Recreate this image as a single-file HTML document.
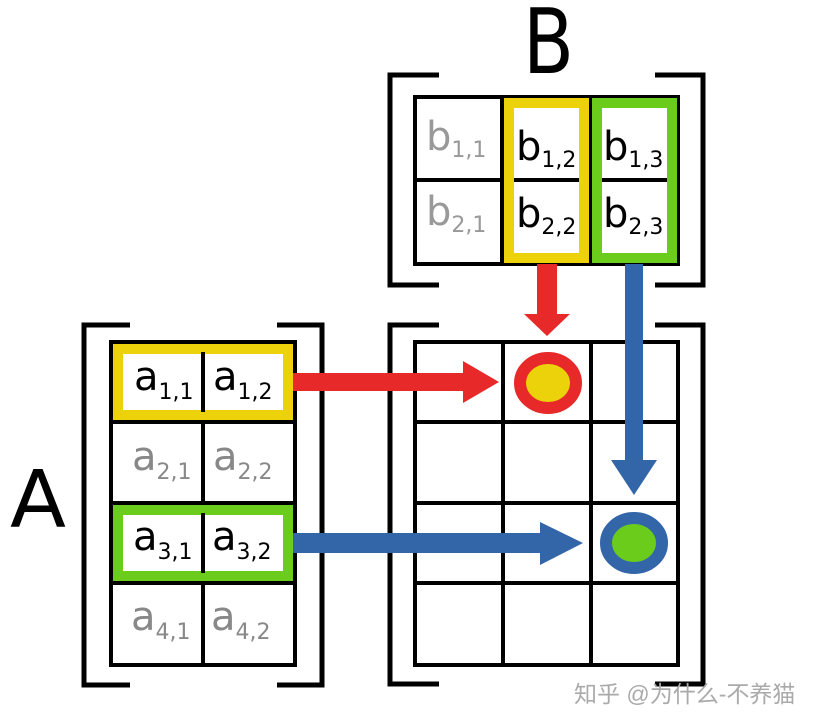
<!DOCTYPE html>
<html><head><meta charset="utf-8"><style>
html,body{margin:0;padding:0;background:#fff;}
svg{display:block;}
text{font-family:"DejaVu Sans","Liberation Sans",sans-serif;}
</style></head><body>
<svg width="828" height="727" viewBox="0 0 828 727" xmlns="http://www.w3.org/2000/svg">
<rect width="828" height="727" fill="#fff"/>
<text x="523" y="73" font-size="90" textLength="51" lengthAdjust="spacingAndGlyphs" fill="#000">B</text>
<text x="10" y="527" font-size="79" textLength="56" lengthAdjust="spacingAndGlyphs" fill="#000">A</text>

<path d="M439,75 H390 V285 H439" fill="none" stroke="#000" stroke-width="5"/>
<path d="M655,75 H703 V285 H655" fill="none" stroke="#000" stroke-width="5"/>
<rect x="415" y="97" width="263" height="167" fill="#fff" stroke="#000" stroke-width="4"/>
<line x1="415" y1="180" x2="678" y2="180" stroke="#000" stroke-width="4"/>
<line x1="502" y1="97" x2="502" y2="264" stroke="#000" stroke-width="4"/>
<line x1="590" y1="97" x2="590" y2="264" stroke="#000" stroke-width="4"/>
<rect x="509" y="103" width="75" height="155" fill="none" stroke="#ecd20a" stroke-width="10"/>
<rect x="597" y="103" width="75" height="155" fill="none" stroke="#6ccc1c" stroke-width="10"/>

<g font-size="40">
<text x="426" y="150" fill="#999">b<tspan font-size="22" dy="7">1,1</tspan></text>
<text x="426" y="225" fill="#999">b<tspan font-size="22" dy="7">2,1</tspan></text>
<text x="516" y="160" fill="#000">b<tspan font-size="22" dy="7">1,2</tspan></text>
<text x="516" y="227" fill="#000">b<tspan font-size="22" dy="7">2,2</tspan></text>
<text x="603" y="160" fill="#000">b<tspan font-size="22" dy="7">1,3</tspan></text>
<text x="603" y="227" fill="#000">b<tspan font-size="22" dy="7">2,3</tspan></text>
</g>

<path d="M439,325 H390 V684 H439" fill="none" stroke="#000" stroke-width="5"/>
<path d="M655,325 H703 V684 H655" fill="none" stroke="#000" stroke-width="5"/>
<rect x="415" y="342" width="263" height="323" fill="#fff" stroke="#000" stroke-width="4"/>
<line x1="415" y1="422" x2="678" y2="422" stroke="#000" stroke-width="4"/>
<line x1="415" y1="503" x2="678" y2="503" stroke="#000" stroke-width="4"/>
<line x1="415" y1="583" x2="678" y2="583" stroke="#000" stroke-width="4"/>
<line x1="503" y1="342" x2="503" y2="665" stroke="#000" stroke-width="4"/>
<line x1="591" y1="342" x2="591" y2="665" stroke="#000" stroke-width="4"/>

<path d="M130,325 H84 V685 H130" fill="none" stroke="#000" stroke-width="5"/>
<path d="M277,325 H322 V685 H277" fill="none" stroke="#000" stroke-width="5"/>
<rect x="111" y="342" width="184" height="323" fill="#fff" stroke="#000" stroke-width="4"/>
<line x1="111" y1="422" x2="295" y2="422" stroke="#000" stroke-width="4"/>
<line x1="111" y1="503" x2="295" y2="503" stroke="#000" stroke-width="4"/>
<line x1="111" y1="583" x2="295" y2="583" stroke="#000" stroke-width="4"/>
<line x1="203" y1="342" x2="203" y2="665" stroke="#000" stroke-width="4"/>
<rect x="118" y="349" width="170" height="66" fill="none" stroke="#ecd20a" stroke-width="10"/>
<rect x="118" y="510" width="170" height="66" fill="none" stroke="#6ccc1c" stroke-width="10"/>
<line x1="203" y1="352" x2="203" y2="412" stroke="#000" stroke-width="4"/>
<line x1="203" y1="513" x2="203" y2="573" stroke="#000" stroke-width="4"/>

<g font-size="40">
<text x="134" y="390" fill="#000">a<tspan font-size="22" dy="9">1,1</tspan></text>
<text x="213" y="390" fill="#000">a<tspan font-size="22" dy="9">1,2</tspan></text>
<text x="132" y="470" fill="#888">a<tspan font-size="22" dy="9">2,1</tspan></text>
<text x="213" y="470" fill="#888">a<tspan font-size="22" dy="9">2,2</tspan></text>
<text x="133" y="550" fill="#000">a<tspan font-size="22" dy="9">3,1</tspan></text>
<text x="212" y="550" fill="#000">a<tspan font-size="22" dy="9">3,2</tspan></text>
<text x="131" y="630" fill="#888">a<tspan font-size="22" dy="9">4,1</tspan></text>
<text x="211" y="630" fill="#888">a<tspan font-size="22" dy="9">4,2</tspan></text>
</g>

<polygon points="537,264 557,264 557,314 570,314 547,336 524,314 537,314" fill="#e8292a"/>
<polygon points="293,373 463,373 463,361 499,382 463,403 463,391 293,391" fill="#e8292a"/>
<polygon points="625,264 643,264 643,460 657,460 634,495 611,460 625,460" fill="#3366a8"/>
<polygon points="293,533 540,533 540,522 583,543 540,565 540,553 293,553" fill="#3366a8"/>

<ellipse cx="548" cy="383" rx="28" ry="25" fill="#ecd20a" stroke="#e8292a" stroke-width="12"/>
<ellipse cx="634" cy="543" rx="28" ry="25" fill="#6ccc1c" stroke="#3366a8" stroke-width="12"/>

<text x="574" y="702" font-size="23" fill="#aaa" style="font-family:'Liberation Sans','Noto Sans CJK SC',sans-serif">知乎 @为什么-不养猫</text>
</svg>
</body></html>
